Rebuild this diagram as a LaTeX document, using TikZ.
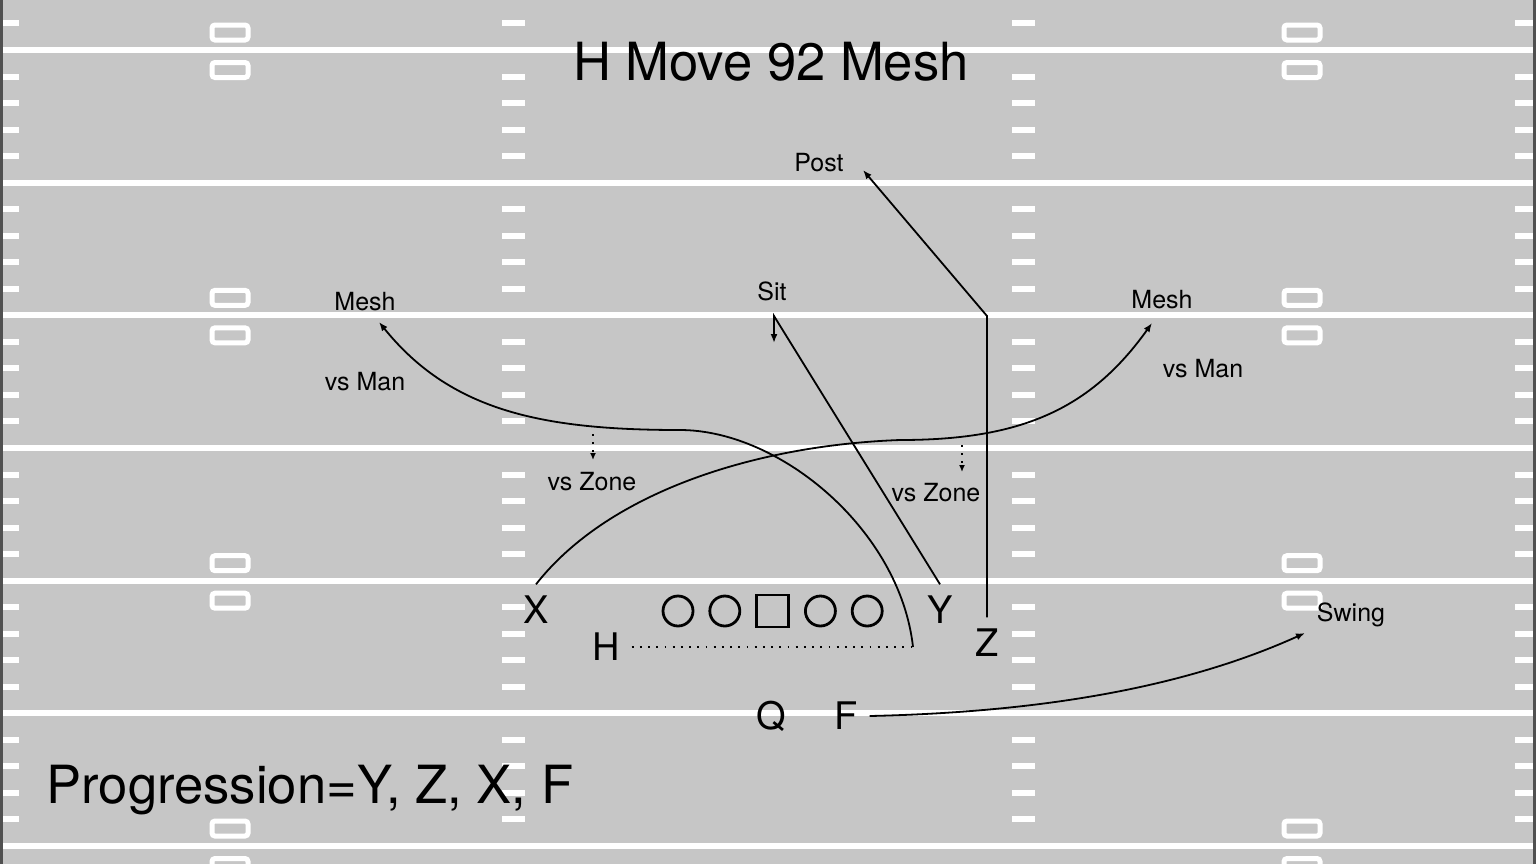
\documentclass[tikz,border=0pt]{standalone}
\usepackage{fontspec}
\setmainfont{TeX Gyre Heros}
\usetikzlibrary{arrows.meta, positioning, chains, shapes}

\definecolor{turf}{RGB}{198,198,198}
\definecolor{sideline}{RGB}{80,80,80}

\begin{document}
\begin{tikzpicture}[x=0.5pt, y=-0.5pt, node distance=7pt,
		player/.style={inner sep=0pt, outer sep=6pt, text height=13.7pt, text depth=0pt, font=\fontsize{19}{19}\selectfont},
		lbl/.style={inner sep=0pt, text height=9pt, text depth=0pt, font=\fontsize{12.5}{12.5}\selectfont},
		big/.style={inner sep=0pt, text height=18.9pt, text depth=0pt, font=\fontsize{26.3}{26.3}\selectfont},
		lineman/.style={draw, circle, line width=1.4pt, minimum size=15pt, inner sep=0pt, on chain=ol},
		snapper/.style={draw, rectangle, line width=1.4pt, minimum size=16pt, inner sep=0pt, on chain=ol},
		route/.style={line width=0.9pt, -{Latex[length=4.5pt,width=3.5pt]}},
		motion/.style={line width=0.9pt, dash pattern=on 0.9pt off 3.2pt},
		zone/.style={line width=0.8pt, dash pattern=on 0.8pt off 3.2pt, -{Latex[length=3.5pt,width=3pt]}},
		start chain=ol going right]
	\useasboundingbox (0,0) rectangle (1536,864);
	\clip (0,0) rectangle (1536,864);
	\fill[turf] (0,0) rectangle (1536,864);
	\fill[sideline] (0,0) rectangle (3,864);
	\fill[sideline] (1533,0) rectangle (1536,864);
	\foreach \l in {-1,...,6} {
		\foreach \k in {1,...,4} {
			\pgfmathsetmacro\ty{50+132.67*\l+26.53*\k}
			\fill[white] (3,\ty-3) rectangle (19,\ty+3);
			\fill[white] (502,\ty-3) rectangle (525,\ty+3);
			\fill[white] (1012,\ty-3) rectangle (1035,\ty+3);
			\fill[white] (1515,\ty-3) rectangle (1533,\ty+3);
		}
	}
	\foreach \l in {0,...,6} {
		\pgfmathsetmacro\ly{50+132.67*\l}
		\fill[white] (3,\ly-3) rectangle (1533,\ly+3);
	}
	\foreach \l in {0,2,4,6} {
		\pgfmathsetmacro\ly{50+132.67*\l}
		\foreach \nx in {212,1284} {
			\draw[white, line width=2.5pt, rounded corners=1.5pt] (\nx,\ly-25) rectangle (\nx+36,\ly-10);
			\draw[white, line width=2.5pt, rounded corners=1.5pt] (\nx,\ly+12.5) rectangle (\nx+36,\ly+27.5);
		}
	}

	\node[big] (title) at (771,62) {H Move 92 Mesh};
	\node[big, anchor=west] (prog) at (46,785) {Progression=Y, Z, X, F};

	\node[lineman] (ol1) at (678,611) {};
	\node[lineman] (ol2) {};
	\node[snapper] (c) {};
	\node[lineman] (ol3) {};
	\node[lineman] (ol4) {};

	\node[player] (X) at (536,610) {X};
	\node[player] (Y) at (940,610) {Y};
	\node[player] (Z) at (987,643) {Z};
	\node[player] (H) at (606,647) {H};
	\node[player] (Q) at (771,716) {Q};
	\node[player] (F) at (846,716) {F};

	\node[lbl] (post) at (819,162) {Post};
	\node[lbl] (sit) at (772,291) {Sit};
	\node[lbl] (meshL) at (365,301) {Mesh};
	\node[lbl] (meshR) at (1162,299) {Mesh};
	\node[lbl] (manL) at (365,381) {vs Man};
	\node[lbl] (manR) at (1203,368) {vs Man};
	\node[lbl] (zoneL) at (592,481) {vs Zone};
	\node[lbl] (zoneR) at (936,492) {vs Zone};
	\node[lbl] (swing) at (1351,612) {Swing};

	\coordinate (zcut) at (987,316);
	\coordinate (postend) at (863,170);
	\coordinate (ycut) at (774,316);
	\coordinate (sitend) at (774,343);
	\coordinate (xmesh) at (1152,323);
	\coordinate (hturn) at (913,647);
	\coordinate (hmesh) at (379,322);
	\coordinate (swingend) at (1305,633);
	\coordinate (zoneLa) at (593,434);
	\coordinate (zoneLb) at (593,460);
	\coordinate (zoneRa) at (962,445);
	\coordinate (zoneRb) at (962,472);

	\draw[route] (Z.north) -- (zcut) -- (postend);
	\draw[route] (Y.north) -- (ycut) -- (sitend);
	\draw[route] (X.north) .. controls (610,490) and (760,445) .. (900,440) .. controls (1020,440) and (1090,410) .. (xmesh);
	\draw[motion] (H.east) -- (hturn);
	\draw[route] (hturn) .. controls (900,530) and (780,430) .. (680,430) .. controls (540,430) and (450,410) .. (hmesh);
	\draw[route] (F.east) .. controls (1050,712) and (1190,685) .. (swingend);
	\draw[zone] (zoneLa) -- (zoneLb);
	\draw[zone] (zoneRa) -- (zoneRb);
\end{tikzpicture}
\end{document}
